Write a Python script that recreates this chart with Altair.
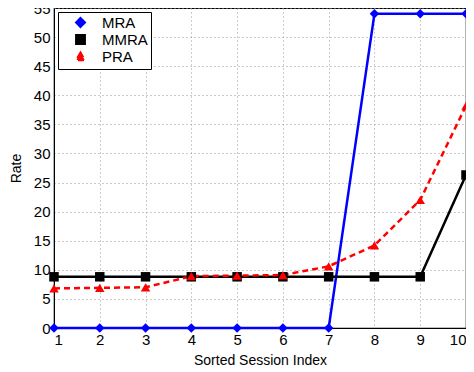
import altair as alt
import pandas as pd

idx = list(range(1, 11))
mra = [0, 0, 0, 0, 0, 0, 0, 54, 54, 54]
mmra = [8.8, 8.8, 8.8, 8.8, 8.8, 8.8, 8.8, 8.8, 8.8, 26.3]
pra = [6.8, 6.9, 7.0, 8.9, 9.0, 9.1, 10.6, 14.2, 22.0, 38.2]
series = ["MRA", "MMRA", "PRA"]
colors = ["#0000ff", "#000000", "#ff0000"]
shapes = ["diamond", "square", "triangle-up"]
dashes = [[1, 0], [1, 0], [6, 4]]

rows = []
for name, vals in zip(series, [mra, mmra, pra]):
    for i, v in zip(idx, vals):
        rows.append({"idx": i, "rate": v, "series": name})
df = pd.DataFrame(rows)

font = "Liberation Sans"
x = alt.X("idx:Q", scale=alt.Scale(domain=[1, 10], nice=False),
          axis=alt.Axis(values=idx, title="Sorted Session Index", format="d"))
y = alt.Y("rate:Q", scale=alt.Scale(domain=[0, 55], nice=False),
          axis=alt.Axis(values=list(range(0, 56, 5)), title="Rate"))
col = alt.Color("series:N", scale=alt.Scale(domain=series, range=colors), title=None)

base = alt.Chart(df)
lines = base.mark_line(strokeWidth=2.5).encode(
    x=x, y=y, color=col,
    strokeDash=alt.StrokeDash("series:N", scale=alt.Scale(domain=series, range=dashes), title=None),
)
pts = base.mark_point(filled=True, size=90, opacity=1).encode(
    x=x, y=y, color=col,
    shape=alt.Shape("series:N", scale=alt.Scale(domain=series, range=shapes), title=None),
)

chart = alt.layer(lines, pts).properties(
    width=412, height=320,
    autosize=alt.AutoSizeParams(type="none"),
    padding={"left": 46, "top": 0, "right": 0, "bottom": 44},
).configure_view(stroke="black", strokeWidth=1.2).configure_axis(
    labelFont=font, titleFont=font, labelFontSize=15, titleFontSize=14,
    labelColor="black", titleColor="black", titleFontWeight="normal",
    domainColor="black", ticks=False, labelPadding=4,
    gridColor="#999999", gridDash=[1, 3], gridWidth=1,
).configure_axisY(titlePadding=10).configure_axisX(titlePadding=6).configure_legend(
    orient="top-left", offset=4, labelFont=font, labelFontSize=15, labelColor="black",
    strokeColor="black", fillColor="white", padding=3, symbolStrokeWidth=2.5,
    symbolSize=70, rowPadding=-4, symbolOffset=12, labelOffset=14,
)

chart.save("out.html", embed_options={"renderer": "svg", "actions": False})
